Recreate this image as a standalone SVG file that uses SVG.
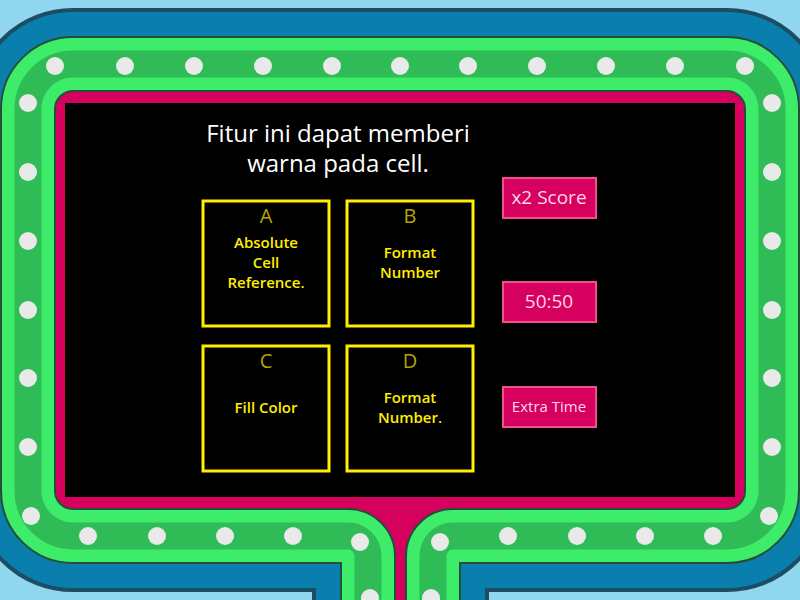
<svg xmlns="http://www.w3.org/2000/svg" width="800" height="600" viewBox="0 0 800 600">
<style>
.ans{fill:none;stroke:#ffee00;stroke-width:3}
.let{font-family:"Open Sans","Liberation Sans",sans-serif;font-size:20px;fill:#b5a300;text-anchor:middle}
.at{font-family:"Open Sans","Liberation Sans",sans-serif;font-size:15px;font-weight:600;fill:#ffee00;text-anchor:middle}
.pw{fill:#d6005e;stroke:#f0508d;stroke-width:2}
.pt{font-family:"Open Sans","Liberation Sans",sans-serif;fill:#ffd6e6;text-anchor:middle}
.dot{fill:#e9e9e9}
</style>
<defs>
<path id="band" d="M 368 620 L 368 556 A 20 20 0 0 0 348 536 L 73 536 A 45 45 0 0 1 28 491 L 28 109 A 45 45 0 0 1 73 64 L 727 64 A 45 45 0 0 1 772 109 L 772 491 A 45 45 0 0 1 727 536 L 453 536 A 20 20 0 0 0 433 556 L 433 620" fill="none"/>
</defs>
<rect width="800" height="600" fill="#8fd6ee"/>
<g id="frame">
<use href="#band" stroke="#1d4d63" stroke-width="112"/>
<use href="#band" stroke="#0a7fae" stroke-width="104"/>
<rect x="50" y="88" width="700" height="440" rx="8" fill="#d6005e" stroke="#4a1030" stroke-width="2"/>
<rect x="380" y="500" width="40" height="100" fill="#d6005e"/>
<use href="#band" stroke="#234f3a" stroke-width="56"/>
<use href="#band" stroke="#3ded6a" stroke-width="52"/>
<use href="#band" stroke="#2fbb55" stroke-width="27"/>
<rect x="65" y="103" width="670" height="394" fill="#000"/>
</g>
<g id="dots">
<circle class="dot" cx="55" cy="66" r="9"/><circle class="dot" cx="125" cy="66" r="9"/><circle class="dot" cx="194" cy="66" r="9"/><circle class="dot" cx="263" cy="66" r="9"/><circle class="dot" cx="332" cy="66" r="9"/><circle class="dot" cx="400" cy="66" r="9"/><circle class="dot" cx="468" cy="66" r="9"/><circle class="dot" cx="537" cy="66" r="9"/><circle class="dot" cx="606" cy="66" r="9"/><circle class="dot" cx="675" cy="66" r="9"/><circle class="dot" cx="745" cy="66" r="9"/>
<circle class="dot" cx="28" cy="103" r="9"/><circle class="dot" cx="28" cy="172" r="9"/><circle class="dot" cx="28" cy="241" r="9"/><circle class="dot" cx="28" cy="310" r="9"/><circle class="dot" cx="28" cy="378" r="9"/><circle class="dot" cx="28" cy="447" r="9"/><circle class="dot" cx="31" cy="516" r="9"/>
<circle class="dot" cx="772" cy="103" r="9"/><circle class="dot" cx="772" cy="172" r="9"/><circle class="dot" cx="772" cy="241" r="9"/><circle class="dot" cx="772" cy="310" r="9"/><circle class="dot" cx="772" cy="378" r="9"/><circle class="dot" cx="772" cy="447" r="9"/><circle class="dot" cx="769" cy="516" r="9"/>
<circle class="dot" cx="88" cy="536" r="9"/><circle class="dot" cx="157" cy="536" r="9"/><circle class="dot" cx="225" cy="536" r="9"/><circle class="dot" cx="293" cy="536" r="9"/><circle class="dot" cx="360" cy="542" r="9"/>
<circle class="dot" cx="440" cy="542" r="9"/><circle class="dot" cx="508" cy="536" r="9"/><circle class="dot" cx="577" cy="536" r="9"/><circle class="dot" cx="645" cy="536" r="9"/><circle class="dot" cx="713" cy="536" r="9"/>
<circle class="dot" cx="370" cy="598" r="9"/><circle class="dot" cx="431" cy="598" r="9"/>
</g>
<g id="question" font-family="'Open Sans','Liberation Sans',sans-serif" font-size="24" fill="#fff" text-anchor="middle">
<text x="338" y="142">Fitur ini dapat memberi</text>
<text x="338" y="172">warna pada cell.</text>
</g>
<g id="answerA"><rect class="ans" x="203" y="201" width="126" height="125"/><text class="let" x="266" y="223">A</text><text class="at" x="266" y="248">Absolute</text><text class="at" x="266" y="268">Cell</text><text class="at" x="266" y="288">Reference.</text></g>
<g id="answerB"><rect class="ans" x="347" y="201" width="126" height="125"/><text class="let" x="410" y="223">B</text><text class="at" x="410" y="258">Format</text><text class="at" x="410" y="278">Number</text></g>
<g id="answerC"><rect class="ans" x="203" y="346" width="126" height="125"/><text class="let" x="266" y="368">C</text><text class="at" x="266" y="413">Fill Color</text></g>
<g id="answerD"><rect class="ans" x="347" y="346" width="126" height="125"/><text class="let" x="410" y="368">D</text><text class="at" x="410" y="403">Format</text><text class="at" x="410" y="423">Number.</text></g>
<g id="p1"><rect class="pw" x="503" y="178" width="93" height="40"/><text class="pt" x="549" y="204" font-size="19">x2 Score</text></g>
<g id="p2"><rect class="pw" x="503" y="282" width="93" height="40"/><text class="pt" x="549" y="308" font-size="19">50:50</text></g>
<g id="p3"><rect class="pw" x="503" y="387" width="93" height="40"/><text class="pt" x="549" y="412" font-size="15">Extra Time</text></g>
</svg>
